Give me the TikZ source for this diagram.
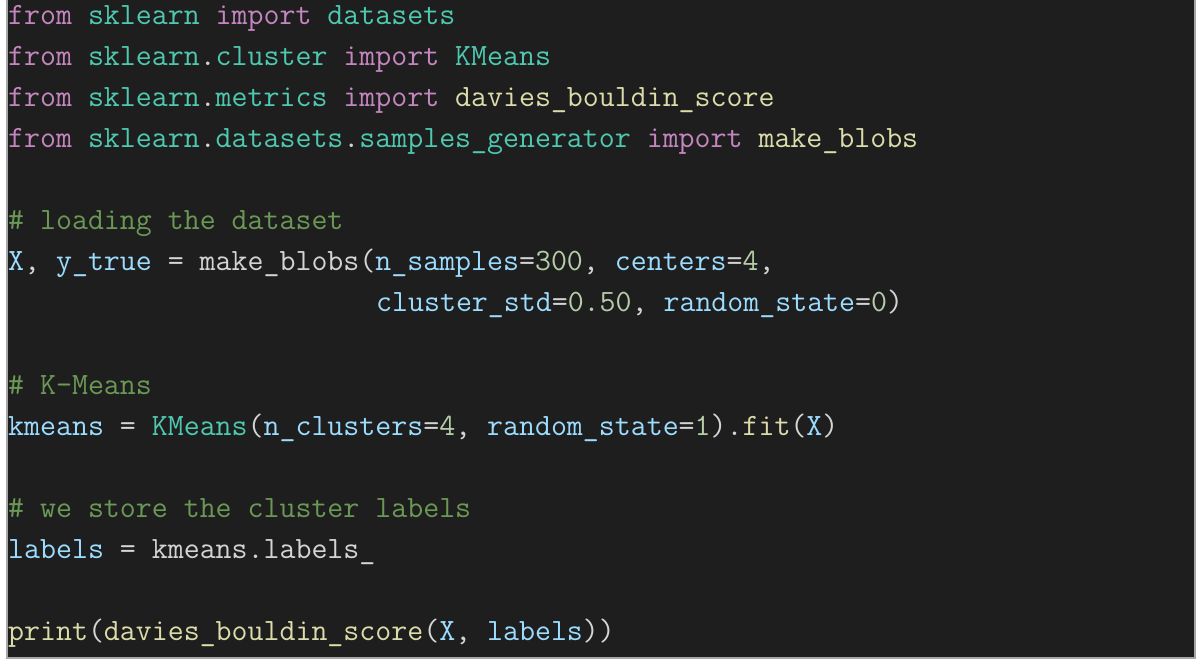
\documentclass[tikz,border=0pt]{standalone}
\definecolor{bg}{HTML}{1E1E1E}
\definecolor{kw}{HTML}{C586C0}
\definecolor{md}{HTML}{4EC9B0}
\definecolor{fn}{HTML}{DCDCAA}
\definecolor{vr}{HTML}{9CDCFE}
\definecolor{cm}{HTML}{6A9955}
\definecolor{nm}{HTML}{B5CEA8}
\definecolor{tx}{HTML}{D4D4D4}
\newcommand{\K}[1]{\textcolor{kw}{#1}}
\newcommand{\M}[1]{\textcolor{md}{#1}}
\newcommand{\F}[1]{\textcolor{fn}{#1}}
\newcommand{\V}[1]{\textcolor{vr}{#1}}
\newcommand{\C}[1]{\textcolor{cm}{#1}}
\newcommand{\N}[1]{\textcolor{nm}{#1}}
\begin{document}
\begin{tikzpicture}[x=1pt,y=-1pt,
  code/.style={anchor=base west,inner sep=0pt,text=tx,font=\fontsize{31}{31}\selectfont\ttfamily}]
\useasboundingbox (0,0) rectangle (1200,663);
\fill[white] (0,0) rectangle (1200,663);
\fill[bg,draw=gray!70,line width=1.2pt] (7,-2) rectangle (1195,658);
\node[code] (l1) at (8,25) {\K{from}\ \M{sklearn}\ \K{import}\ \M{datasets}};
\node[code] (l2) at (8,66) {\K{from}\ \M{sklearn}.\M{cluster}\ \K{import}\ \M{KMeans}};
\node[code] (l3) at (8,107) {\K{from}\ \M{sklearn}.\M{metrics}\ \K{import}\ \F{davies\_bouldin\_score}};
\node[code] (l4) at (8,148) {\K{from}\ \M{sklearn}.\M{datasets}.\M{samples\_generator}\ \K{import}\ \F{make\_blobs}};
\node[code] (l6) at (8,230) {\C{\#\ loading\ the\ dataset}};
\node[code] (l7) at (8,271) {\V{X},\ \V{y\_true}\ =\ make\_blobs(\V{n\_samples}=\N{300},\ \V{centers}=\N{4},};
\node[code] (l8) at (376,312) {\V{cluster\_std}=\N{0.50},\ \V{random\_state}=\N{0})};
\node[code] (l10) at (8,394) {\C{\#\ K-Means}};
\node[code] (l11) at (8,435) {\V{kmeans}\ =\ \M{KMeans}(\V{n\_clusters}=\N{4},\ \V{random\_state}=\N{1}).\F{fit}(\V{X})};
\node[code] (l13) at (8,517) {\C{\#\ we\ store\ the\ cluster\ labels}};
\node[code] (l14) at (8,558) {\V{labels}\ =\ kmeans.labels\_};
\node[code] (l16) at (8,640) {\F{print}(\F{davies\_bouldin\_score}(\V{X},\ \V{labels}))};
\end{tikzpicture}
\end{document}
